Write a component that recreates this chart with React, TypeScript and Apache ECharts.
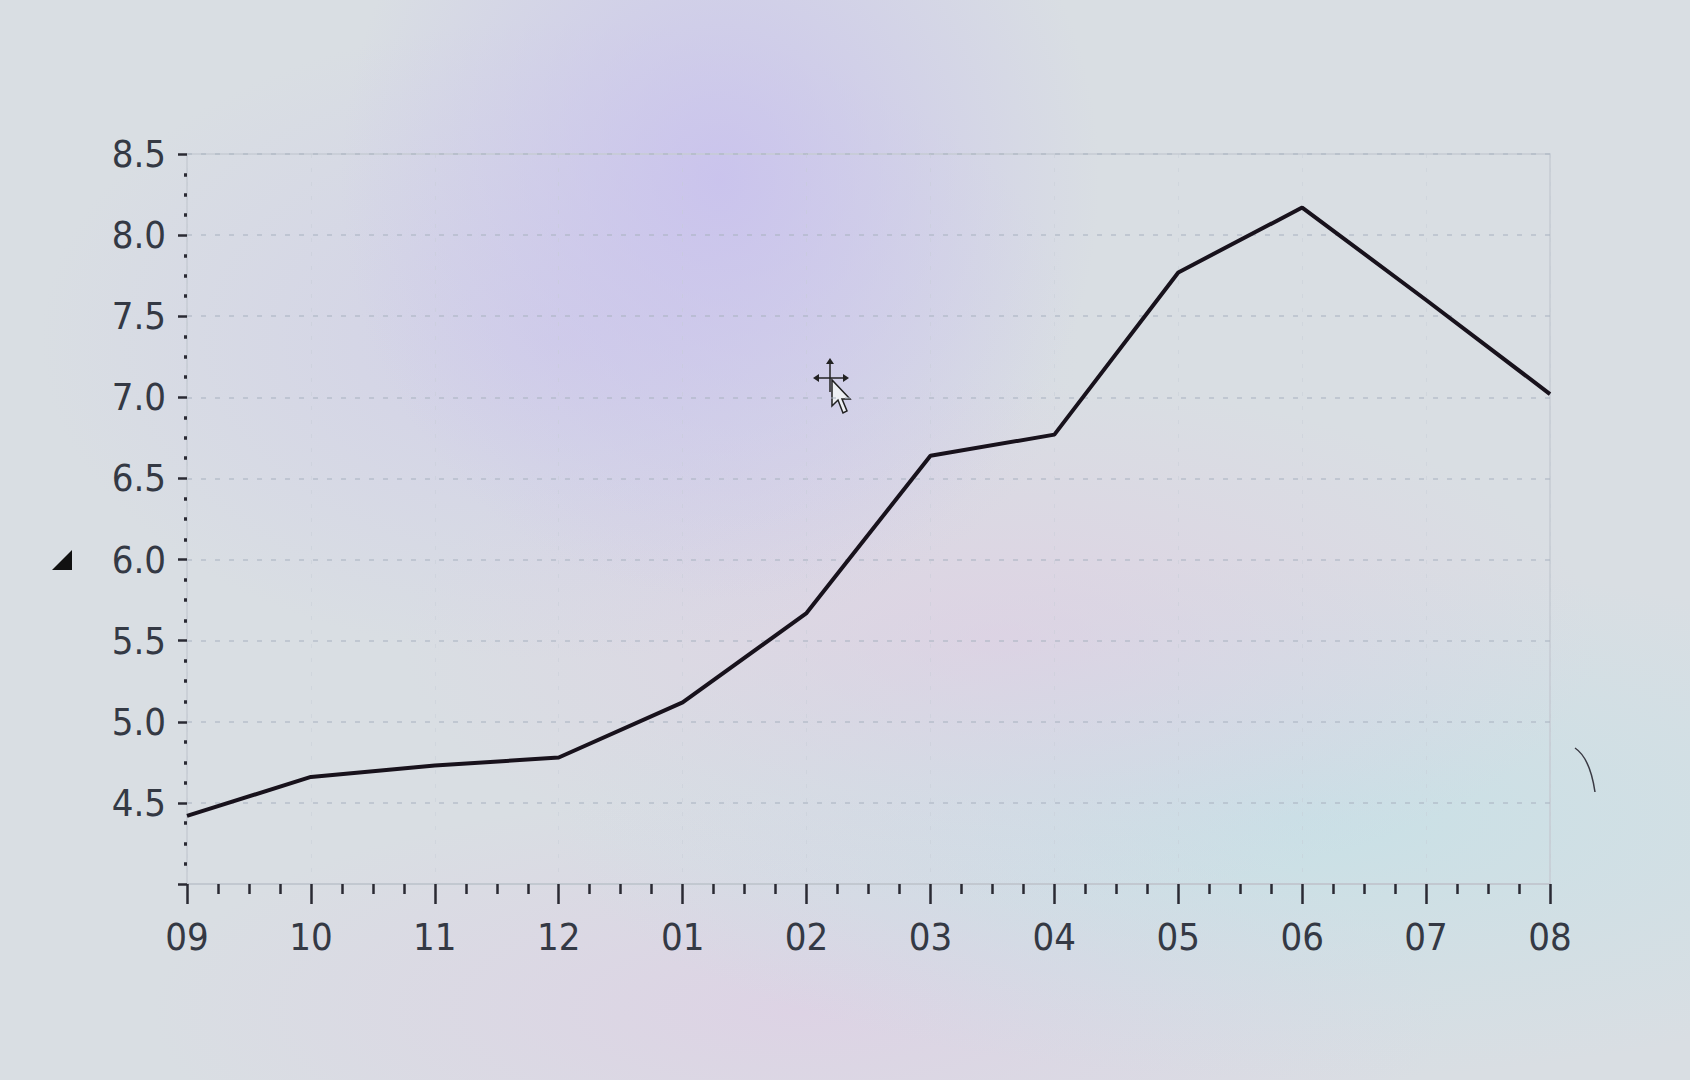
import React, { useEffect, useRef } from "react";
import * as echarts from "echarts";

// Month labels shown under the x axis (Sept -> Aug)
const monthLabels = ["09", "10", "11", "12", "01", "02", "03", "04", "05", "06", "07", "08"];
// Position of each reading on the month axis
const monthIndex = [0, 1, 2, 3, 4, 5, 6, 7, 8, 9, 10, 11];
// Readings
const values = [4.42, 4.66, 4.73, 4.78, 5.12, 5.67, 6.64, 6.77, 7.77, 8.17, 7.6, 7.02];
// Labelled y ticks
const yTickLabels = [4.5, 5.0, 5.5, 6.0, 6.5, 7.0, 7.5, 8.0, 8.5];

const FONT =
  '"Liberation Sans Narrow", "DejaVu Sans Condensed", "Roboto Condensed", "Arial Narrow", "Liberation Sans", sans-serif';
const INK = "#2a2a33";

export default function App() {
  const ref = useRef<HTMLDivElement>(null);

  useEffect(() => {
    if (!ref.current) return;
    const chart = echarts.init(ref.current, null, { renderer: "svg" });
    const seriesData = monthIndex.map((m, i) => [m, values[i]]);

    chart.setOption({
      animation: false,
      backgroundColor: "transparent",
      grid: {
        left: 187,
        right: 140,
        top: 154,
        bottom: 196,
        show: true,
        borderColor: "#c6ccd4",
        borderWidth: 1.5,
        backgroundColor: "transparent",
      },
      xAxis: {
        type: "value",
        min: 0,
        max: 11,
        interval: 1,
        axisLine: { show: true, lineStyle: { color: "#c2c8d0", width: 2 } },
        axisTick: { show: true, length: 20, lineStyle: { color: INK, width: 2.5 } },
        minorTick: { show: true, splitNumber: 4, length: 10, lineStyle: { color: INK, width: 2.5 } },
        splitLine: { show: true, lineStyle: { color: "#c6ccd5", type: [4, 10], width: 1, opacity: 0.45 } },
        minorSplitLine: { show: false },
        axisLabel: {
          margin: 34,
          fontFamily: FONT,
          fontSize: 38,
          color: "#343944",
          formatter: (v: number) => (Number.isInteger(v) && monthLabels[v] !== undefined ? monthLabels[v] : ""),
        },
      },
      yAxis: {
        type: "value",
        min: 4.0,
        max: 8.5,
        interval: 0.5,
        offset: 15,
        axisLine: { show: false },
        axisTick: { show: true, length: 9, lineStyle: { color: INK, width: 2.5 } },
        minorTick: { show: true, splitNumber: 4, length: 3, lineStyle: { color: INK, width: 3.5 } },
        splitLine: { show: true, lineStyle: { color: "#aab3c0", type: [5, 9], width: 1.5, opacity: 0.7 } },
        axisLabel: {
          margin: 6,
          fontFamily: FONT,
          fontSize: 38,
          color: "#343944",
          formatter: (v: number) => {
            const hit = yTickLabels.find((t) => Math.abs(t - v) < 1e-6);
            return hit !== undefined ? hit.toFixed(1) : "";
          },
        },
      },
      series: [
        {
          type: "line",
          data: seriesData,
          showSymbol: false,
          symbol: "none",
          lineStyle: { color: "#18121c", width: 4 },
          z: 5,
        },
      ],
      graphic: [
        // small black triangle at left
        {
          type: "polygon",
          shape: { points: [[52, 570], [72, 550], [72, 570]] },
          style: { fill: "#111" },
        },
        // faint arc on the right
        {
          type: "bezierCurve",
          shape: { x1: 1575, y1: 748, x2: 1595, y2: 792, cpx1: 1590, cpy1: 758 },
          style: { stroke: "#3a3a44", lineWidth: 1.5, fill: "none" },
        },
        // mouse cursor (move cross + arrow)
        {
          type: "group",
          children: [
            { type: "line", shape: { x1: 830, y1: 362, x2: 830, y2: 392 }, style: { stroke: "#222", lineWidth: 1.5 } },
            { type: "line", shape: { x1: 816, y1: 378, x2: 846, y2: 378 }, style: { stroke: "#222", lineWidth: 1.5 } },
            { type: "polygon", shape: { points: [[830, 358], [826, 364], [834, 364]] }, style: { fill: "#222" } },
            { type: "polygon", shape: { points: [[813, 378], [819, 374], [819, 382]] }, style: { fill: "#222" } },
            { type: "polygon", shape: { points: [[849, 378], [843, 374], [843, 382]] }, style: { fill: "#222" } },
            {
              type: "polygon",
              shape: {
                points: [[832, 380], [832, 406], [838, 400], [843, 413], [847, 411], [842, 399], [850, 399]],
              },
              style: { fill: "#eef0f4", stroke: "#222", lineWidth: 1.5 },
            },
          ],
        },
      ],
    });

    return () => chart.dispose();
  }, []);

  return (
    <div
      style={{
        position: "fixed",
        left: 0,
        top: 0,
        width: 1690,
        height: 1080,
        background:
          "radial-gradient(ellipse 380px 420px at 720px 180px, rgba(200,192,238,0.85), rgba(200,192,238,0) 100%)," +
          "radial-gradient(ellipse 520px 320px at 560px 340px, rgba(205,198,236,0.55), rgba(205,198,236,0) 100%)," +
          "radial-gradient(ellipse 600px 260px at 1000px 640px, rgba(226,200,228,0.5), rgba(226,200,228,0) 100%)," +
          "radial-gradient(ellipse 750px 260px at 1300px 820px, rgba(190,226,232,0.6), rgba(190,226,232,0) 100%)," +
          "radial-gradient(ellipse 650px 220px at 800px 1010px, rgba(225,200,230,0.5), rgba(225,200,230,0) 100%)," +
          "#d9dee3",
      }}
    >
      <div ref={ref} style={{ width: 1690, height: 1080 }} />
    </div>
  );
}
